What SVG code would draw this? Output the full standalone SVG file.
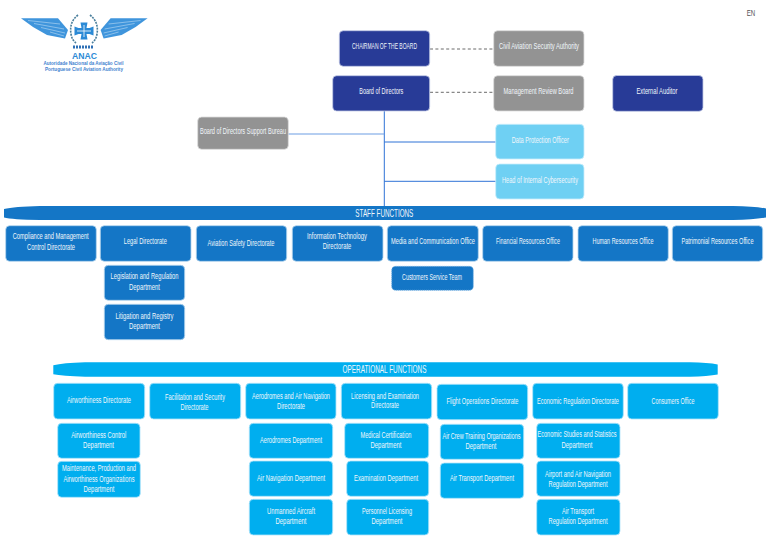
<svg xmlns="http://www.w3.org/2000/svg" width="768" height="543" viewBox="0 0 768 543">
<style>
text{font-family:"Liberation Sans Narrow","Liberation Sans",sans-serif;font-size:8.4px;fill:#f1f6fb;text-anchor:middle}
.b{stroke-width:.8}
.navy{fill:#283b97;stroke:#c4cbe6}
.grey{fill:#939393;stroke:#dcdcdc}
.sky{fill:#6fd0f3;stroke:#c9eefb}
.staff{fill:#1476c6;stroke:#b6d5ee}
.op{fill:#00aeef;stroke:#b0e4fa}
.conn{fill:none;stroke:#2f72d6;stroke-width:1}
.thick{stroke-width:1.2;stroke:#6d9ee3}
.dash{fill:none;stroke:#444;stroke-width:.8;stroke-dasharray:3 2.4}
.banner{font-size:11px}
.lg{fill:#3f95dc}
.st{fill:none;stroke:#d5e8f8;stroke-width:.5}
.sm{font-size:5.4px;font-weight:700;fill:#3f82cf}
</style>
<g id="logo">
<g id="wing-left">
<path class="lg" d="M21 18.3L58 18.3L68 30L65 38.500L47 35L33 27Z"/>
<path class="st" d="M28 20.500L60 24M34 23.500L64 29M41 27.500L65 33M50 32L64 36"/>
</g>
<g id="wing-right" transform="translate(168.600 0) scale(-1 1)">
<path class="lg" d="M21 18.3L58 18.3L68 30L65 38.500L47 35L33 27Z"/>
<path class="st" d="M28 20.500L60 24M34 23.500L64 29M41 27.500L65 33M50 32L64 36"/>
</g>
<path fill="#2b8ad6" d="M80.500 22.500H87.500L86.500 28H89.500L93.500 26.500V35.500L89.500 34H86.500L87.500 39.500H80.500L81.500 34H78.500L74.500 35.500V26.500L78.500 28H81.500Z"/>
<path fill="none" stroke="#fff" stroke-width=".8" d="M84 25V37M77 31H91"/>
<path fill="none" stroke="#4a7f9c" stroke-width="1.6" stroke-dasharray="2 1" d="M78 15Q69 22 71 34Q72 40 76 43M90 15Q99 22 97 34Q96 40 92 43"/>
<path fill="none" stroke="#2d6fb5" stroke-width="3" stroke-dasharray="2 1" d="M73 47H94"/>
<text x="84.500" y="59.300" style="font-size:9.500px;font-weight:700;fill:#2b8ad6" textLength="25" lengthAdjust="spacingAndGlyphs">ANAC</text>
<text class="sm" x="83.500" y="64.700" textLength="80" lengthAdjust="spacingAndGlyphs">Autoridade Nacional da Aviação Civil</text>
<text class="sm" x="84" y="70.800" textLength="78" lengthAdjust="spacingAndGlyphs">Portuguese Civil Aviation Authority</text>
</g>
<text x="751" y="15.500" style="font-size:9.500px;fill:#555" textLength="8.500" lengthAdjust="spacingAndGlyphs">EN</text>
<g id="connectors">
<path class="conn" d="M384.300 111V206M384.300 142H496M384.300 181.300H496"/>
<path class="conn thick" d="M288 134H384.300"/>
<path class="dash" d="M430 49H494M430 92.300H494"/>
</g>
<g id="chairman"><rect class="b navy" x="339.300" y="30.700" width="90.400" height="35.600" rx="4"/><text x="384.500" y="48.500" textLength="65" lengthAdjust="spacingAndGlyphs">CHAIRMAN OF THE BOARD</text></g>
<g id="civil-aviation-security"><rect class="b grey" x="493.700" y="30.700" width="90.300" height="35.600" rx="4"/><text x="539" y="48.800" textLength="80" lengthAdjust="spacingAndGlyphs">Civil Aviation Security Authority</text></g>
<g id="board"><rect class="b navy" x="332.700" y="75.700" width="97" height="35.300" rx="4"/><text x="381.300" y="94.100" textLength="44" lengthAdjust="spacingAndGlyphs">Board of Directors</text></g>
<g id="review-board"><rect class="b grey" x="493.700" y="75.700" width="90.300" height="35.300" rx="4"/><text x="538.500" y="94.300" textLength="70" lengthAdjust="spacingAndGlyphs">Management Review Board</text></g>
<g id="external-auditor"><rect class="b navy" x="612.700" y="75.500" width="90.300" height="35.800" rx="4"/><text x="657" y="94.100" textLength="41" lengthAdjust="spacingAndGlyphs">External Auditor</text></g>
<g id="support-bureau"><rect class="b grey" x="197.700" y="117" width="90.600" height="32.300" rx="4"/><text x="243" y="133.500" textLength="86" lengthAdjust="spacingAndGlyphs">Board of Directors Support Bureau</text></g>
<g id="data-protection"><rect class="b sky" x="495.700" y="124.300" width="88.300" height="34.700" rx="4"/><text x="540.300" y="142.800" textLength="57" lengthAdjust="spacingAndGlyphs">Data Protection Officer</text></g>
<g id="cybersecurity"><rect class="b sky" x="495.700" y="164" width="88.300" height="35" rx="4"/><text x="540" y="183.100" textLength="76" lengthAdjust="spacingAndGlyphs">Head of Internal Cybersecurity</text></g>
<g id="staff-functions"><path fill="#1476c6" d="M4 209Q14 206.500 40 206L733 206Q755 206.300 766 208.500L766 217.500Q755 219.700 733 220L40 220Q12 219.500 4 217.500Z"/><text class="banner" x="384.300" y="216.900" textLength="58" lengthAdjust="spacingAndGlyphs">STAFF FUNCTIONS</text></g>
<g id="compliance"><rect class="b staff" x="5.700" y="225.700" width="90.600" height="35.600" rx="4"/><text x="50.700" y="238.800" textLength="76" lengthAdjust="spacingAndGlyphs">Compliance and Management</text><text x="51" y="249.800" textLength="48" lengthAdjust="spacingAndGlyphs">Control Directorate</text></g>
<g id="legal"><rect class="b staff" x="100.300" y="225.700" width="90.700" height="35.600" rx="4"/><text x="145.300" y="243.800" textLength="43" lengthAdjust="spacingAndGlyphs">Legal Directorate</text></g>
<g id="aviation-safety"><rect class="b staff" x="196.300" y="225.700" width="90.400" height="35.600" rx="4"/><text x="241" y="246.100" textLength="67" lengthAdjust="spacingAndGlyphs">Aviation Safety Directorate</text></g>
<g id="it"><rect class="b staff" x="292.300" y="225.700" width="90.700" height="35.600" rx="4"/><text x="337" y="238.800" textLength="60" lengthAdjust="spacingAndGlyphs">Information Technology</text><text x="337" y="248.800" textLength="28.500" lengthAdjust="spacingAndGlyphs">Directorate</text></g>
<g id="media"><rect class="b staff" x="387.300" y="225.700" width="91" height="35.600" rx="4"/><text x="433" y="243.800" textLength="84" lengthAdjust="spacingAndGlyphs">Media and Communication Office</text></g>
<g id="financial"><rect class="b staff" x="482.700" y="225.700" width="90.300" height="35.600" rx="4"/><text x="528" y="243.800" textLength="64" lengthAdjust="spacingAndGlyphs">Financial Resources Office</text></g>
<g id="hr"><rect class="b staff" x="578" y="225.700" width="90.300" height="35.600" rx="4"/><text x="623" y="243.800" textLength="61" lengthAdjust="spacingAndGlyphs">Human Resources Office</text></g>
<g id="patrimonial"><rect class="b staff" x="672.300" y="225.700" width="90.400" height="35.600" rx="4"/><text x="717.500" y="243.800" textLength="72" lengthAdjust="spacingAndGlyphs">Patrimonial Resources Office</text></g>
<g id="legislation"><rect class="b staff" x="104.300" y="265.300" width="80.400" height="35" rx="4"/><text x="144.500" y="278.500" textLength="68" lengthAdjust="spacingAndGlyphs">Legislation and Regulation</text><text x="144.500" y="289.500" textLength="31" lengthAdjust="spacingAndGlyphs">Department</text></g>
<g id="litigation"><rect class="b staff" x="104.300" y="304.300" width="80.400" height="35.400" rx="4"/><text x="144.500" y="318.500" textLength="58" lengthAdjust="spacingAndGlyphs">Litigation and Registry</text><text x="144.500" y="328.800" textLength="31" lengthAdjust="spacingAndGlyphs">Department</text></g>
<g id="customers"><rect x="391.700" y="266.300" width="81.600" height="24" rx="4" fill="#1476c6" stroke="#7db6e4" stroke-width="1" stroke-dasharray="1 1"/><text x="432" y="279.800" textLength="60" lengthAdjust="spacingAndGlyphs">Customers Service Team</text></g>
<g id="operational-functions"><path fill="#00aeef" d="M53.300 365.300Q63 362.800 85 362.300L690 362.300Q708 362.600 717.700 364.500L717.700 374.500Q708 376.400 690 376.700L85 376.700Q62 376.200 53.300 374.300Z"/><text class="banner" x="384.500" y="373.200" textLength="84" lengthAdjust="spacingAndGlyphs">OPERATIONAL FUNCTIONS</text></g>
<g id="airworthiness"><rect class="b op" x="53.700" y="383.300" width="91" height="35.700" rx="4"/><text x="99" y="402.500" textLength="64" lengthAdjust="spacingAndGlyphs">Airworthiness Directorate</text></g>
<g id="facilitation"><rect class="b op" x="149.700" y="383.300" width="91" height="35.700" rx="4"/><text x="195" y="399.500" textLength="60" lengthAdjust="spacingAndGlyphs">Facilitation and Security</text><text x="194.500" y="409.500" textLength="28" lengthAdjust="spacingAndGlyphs">Directorate</text></g>
<g id="aerodromes-nav"><rect class="b op" x="245.700" y="383.300" width="90.300" height="35.700" rx="4"/><text x="291" y="398.500" textLength="78" lengthAdjust="spacingAndGlyphs">Aerodromes and Air Navigation</text><text x="291" y="408.500" textLength="28" lengthAdjust="spacingAndGlyphs">Directorate</text></g>
<g id="licensing"><rect class="b op" x="341.300" y="383.300" width="90.400" height="35.700" rx="4"/><text x="385" y="398.500" textLength="68" lengthAdjust="spacingAndGlyphs">Licensing and Examination</text><text x="385" y="407.500" textLength="28" lengthAdjust="spacingAndGlyphs">Directorate</text></g>
<g id="flight-ops"><rect class="b op" x="437" y="384.300" width="90.700" height="35.400" rx="4"/><text x="482.500" y="403.500" textLength="72" lengthAdjust="spacingAndGlyphs">Flight Operations Directorate</text></g>
<g id="economic"><rect class="b op" x="532.700" y="383.300" width="90.600" height="35.700" rx="4"/><text x="578" y="403.500" textLength="82" lengthAdjust="spacingAndGlyphs">Economic Regulation Directorate</text></g>
<g id="consumers"><rect class="b op" x="627.700" y="383.300" width="90.600" height="35.700" rx="4"/><text x="673" y="403.500" textLength="43" lengthAdjust="spacingAndGlyphs">Consumers Office</text></g>
<g id="aw-control"><rect class="b op" x="57.700" y="423.300" width="82.300" height="35" rx="4"/><text x="98.700" y="437.800" textLength="55" lengthAdjust="spacingAndGlyphs">Airworthiness Control</text><text x="98.500" y="448.100" textLength="31" lengthAdjust="spacingAndGlyphs">Department</text></g>
<g id="maintenance"><rect class="b op" x="57.700" y="461.300" width="82.600" height="36" rx="4"/><text x="99" y="471.100" textLength="74" lengthAdjust="spacingAndGlyphs">Maintenance, Production and</text><text x="99" y="481.500" textLength="71" lengthAdjust="spacingAndGlyphs">Airworthiness Organizations</text><text x="99" y="491.500" textLength="31" lengthAdjust="spacingAndGlyphs">Department</text></g>
<g id="aerodromes"><rect class="b op" x="249.300" y="423.300" width="83.400" height="35" rx="4"/><text x="291" y="443.100" textLength="62" lengthAdjust="spacingAndGlyphs">Aerodromes Department</text></g>
<g id="air-nav"><rect class="b op" x="249.300" y="461" width="83.400" height="35.300" rx="4"/><text x="291" y="480.500" textLength="68" lengthAdjust="spacingAndGlyphs">Air Navigation Department</text></g>
<g id="unmanned"><rect class="b op" x="249.300" y="499.300" width="83.400" height="35.700" rx="4"/><text x="291" y="513.800" textLength="48" lengthAdjust="spacingAndGlyphs">Unmanned Aircraft</text><text x="291" y="524.100" textLength="31" lengthAdjust="spacingAndGlyphs">Department</text></g>
<g id="medical"><rect class="b op" x="344.700" y="423.300" width="84" height="35" rx="4"/><text x="386" y="437.800" textLength="51" lengthAdjust="spacingAndGlyphs">Medical Certification</text><text x="386" y="448.100" textLength="31" lengthAdjust="spacingAndGlyphs">Department</text></g>
<g id="examination"><rect class="b op" x="346.700" y="461" width="82" height="35.300" rx="4"/><text x="386" y="480.500" textLength="64" lengthAdjust="spacingAndGlyphs">Examination Department</text></g>
<g id="personnel"><rect class="b op" x="346.700" y="499.300" width="82" height="35.700" rx="4"/><text x="387" y="513.800" textLength="50" lengthAdjust="spacingAndGlyphs">Personnel Licensing</text><text x="387" y="524.100" textLength="31" lengthAdjust="spacingAndGlyphs">Department</text></g>
<g id="air-crew"><rect class="b op" x="440.300" y="424.300" width="83.400" height="35" rx="4"/><text x="481.500" y="439.100" textLength="78" lengthAdjust="spacingAndGlyphs">Air Crew Training Organizations</text><text x="481" y="449.100" textLength="31" lengthAdjust="spacingAndGlyphs">Department</text></g>
<g id="air-transport"><rect class="b op" x="440.300" y="463" width="83.400" height="35.300" rx="4"/><text x="482" y="480.500" textLength="64" lengthAdjust="spacingAndGlyphs">Air Transport Department</text></g>
<g id="economic-studies"><rect class="b op" x="536.700" y="423.300" width="83.300" height="35" rx="4"/><text x="577" y="436.800" textLength="79" lengthAdjust="spacingAndGlyphs">Economic Studies and Statistics</text><text x="577" y="448.100" textLength="31" lengthAdjust="spacingAndGlyphs">Department</text></g>
<g id="airport-nav-reg"><rect class="b op" x="536.700" y="461" width="83.300" height="35.300" rx="4"/><text x="578" y="476.500" textLength="66" lengthAdjust="spacingAndGlyphs">Airport and Air Navigation</text><text x="578" y="486.500" textLength="59" lengthAdjust="spacingAndGlyphs">Regulation Department</text></g>
<g id="air-transport-reg"><rect class="b op" x="536.700" y="499.300" width="83.300" height="35.700" rx="4"/><text x="578" y="513.800" textLength="32" lengthAdjust="spacingAndGlyphs">Air Transport</text><text x="578" y="524.100" textLength="59" lengthAdjust="spacingAndGlyphs">Regulation Department</text></g>
</svg>
